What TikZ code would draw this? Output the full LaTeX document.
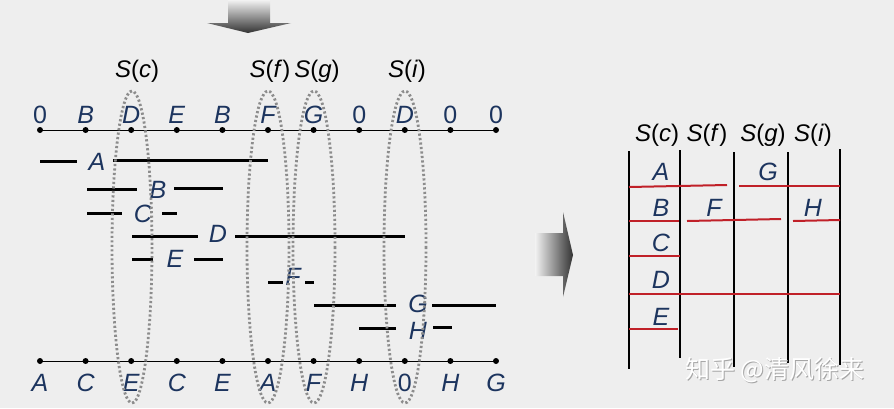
\documentclass[tikz,border=0pt]{standalone}
\usepackage{fontspec}
\setmainfont{Liberation Sans}
\newfontfamily\cjk{Noto Sans CJK SC}
\definecolor{bg}{RGB}{238,238,238}
\definecolor{lbl}{RGB}{28,52,94}
\definecolor{dotg}{RGB}{140,140,140}
\definecolor{redl}{RGB}{192,32,40}
\begin{document}
\begin{tikzpicture}[x=1pt,y=-1pt,
 lab/.style={text=lbl, font=\fontsize{25}{28}\selectfont\itshape, inner sep=0pt},
 num/.style={text=lbl, font=\fontsize{25}{28}\selectfont, inner sep=0pt},
 hdr/.style={text=black, font=\fontsize{24}{28}\selectfont, inner sep=0pt},
 seg/.style={line width=3pt},
 dotell/.style={draw=dotg, line width=2.8pt, dash pattern=on 2.2pt off 2.3pt},
 tickdot/.style={circle, fill=black, inner sep=0pt, minimum size=6pt},
 vline/.style={line width=2.2pt},
 rline/.style={draw=redl, line width=2pt}]
\fill[bg] (0,0) rectangle (894,408);
\useasboundingbox (0,0) rectangle (894,408);
% top arrow
\shade[top color=white!95!black, bottom color=black!80] (228,0) -- (270,0) -- (270,23) -- (291,23) -- (248,33) -- (207,23) -- (228,23) -- cycle;
% right arrow
\shade[left color=white!95!black, right color=black!80] (535,233) -- (563,233) -- (563,212) -- (573,255) -- (563,297) -- (563,276) -- (535,276) -- cycle;
% axes
\draw[line width=1pt] (40,130) -- (496,130);
\draw[line width=1pt] (40,361) -- (496,361);
\foreach \i/\t [count=\k] in {0/0,1/B,2/D,3/E,4/B,5/F,6/G,7/0,8/D,9/0,10/0}{
  \node[tickdot] (t\k) at ({40+45.6*\i},130) {};
}
\foreach \i [count=\k] in {0,...,10}{
  \node[tickdot] (b\k) at ({40+45.6*\i},361) {};
}
\node[num] (tl1) at (t1 |- 0,115) {0};
\node[lab] (tl2) at (t2 |- 0,115) {B};
\node[lab] (tl3) at (t3 |- 0,115) {D};
\node[lab] (tl4) at (t4 |- 0,115) {E};
\node[lab] (tl5) at (t5 |- 0,115) {B};
\node[lab] (tl6) at (t6 |- 0,115) {F};
\node[lab] (tl7) at (t7 |- 0,115) {G};
\node[num] (tl8) at (t8 |- 0,115) {0};
\node[lab] (tl9) at (t9 |- 0,115) {D};
\node[num] (tl10) at (t10 |- 0,115) {0};
\node[num] (tl11) at (t11 |- 0,115) {0};
\node[lab] (bl1) at (b1 |- 0,383) {A};
\node[lab] (bl2) at (b2 |- 0,383) {C};
\node[lab] (bl3) at (b3 |- 0,383) {E};
\node[lab] (bl4) at (b4 |- 0,383) {C};
\node[lab] (bl5) at (b5 |- 0,383) {E};
\node[lab] (bl6) at (b6 |- 0,383) {A};
\node[lab] (bl7) at (b7 |- 0,383) {F};
\node[lab] (bl8) at (b8 |- 0,383) {H};
\node[num] (bl9) at (b9 |- 0,383) {0};
\node[lab] (bl10) at (b10 |- 0,383) {H};
\node[lab] (bl11) at (b11 |- 0,383) {G};
% S labels
\node[hdr] (sc) at (137,71) {\textit{S}(\textit{c})};
\node[hdr] (sf) at (270,71) {\textit{S}(\textit{f})};
\node[hdr] (sg) at (317,71) {\textit{S}(\textit{g})};
\node[hdr] (si) at (407,71) {\textit{S}(\textit{i})};
% intervals
\node[lab] (iA) at (97,162) {A};
\draw[seg] (40,161) -- (77,161) (113,160) -- (268,160);
\node[lab] (iB) at (158,190) {B};
\draw[seg] (87,189) -- (137,189) (174,188) -- (223,188);
\node[lab] (iC) at (143,214) {C};
\draw[seg] (87,213) -- (122,213) (162,213) -- (177,213);
\node[lab] (iD) at (218,234) {D};
\draw[seg] (132,236) -- (198,236) (235,236) -- (405,236);
\node[lab] (iE) at (175,259) {E};
\draw[seg] (132,259) -- (153,259) (194,259) -- (223,259);
\node[lab] (iF) at (293,277) {F};
\draw[seg] (268,282) -- (283,282) (305,282) -- (314,282);
\node[lab] (iG) at (418,304) {G};
\draw[seg] (314,305) -- (396,305) (432,305) -- (496,305);
\node[lab] (iH) at (418,331) {H};
\draw[seg] (359,328) -- (396,328) (433,327) -- (452,327);
% ellipses
\draw[dotell] (132,247) ellipse [x radius=20, y radius=156];
\draw[dotell] (268,247) ellipse [x radius=21, y radius=156];
\draw[dotell] (314,247) ellipse [x radius=21, y radius=156];
\draw[dotell] (405,247) ellipse [x radius=21, y radius=156];
% table
\draw[vline] (629,151) -- (629,369);
\draw[vline] (680,150) -- (680,358);
\draw[vline] (734,152) -- (734,367);
\draw[vline] (788,152) -- (788,363);
\draw[vline] (840,149) -- (840,365);
\node[hdr] (hc) at (657,135) {\textit{S}(\textit{c})};
\node[hdr] (hf) at (707,135) {\textit{S}(\textit{f})};
\node[hdr] (hg) at (763,135) {\textit{S}(\textit{g})};
\node[hdr] (hi) at (813,135) {\textit{S}(\textit{i})};
\node[lab] (cA) at (661,172) {A};
\node[lab] (cG) at (768,172) {G};
\node[lab] (cB) at (661,208) {B};
\node[lab] (cF) at (714,208) {F};
\node[lab] (cH) at (813,208) {H};
\node[lab] (cC) at (661,243) {C};
\node[lab] (cD) at (661,280) {D};
\node[lab] (cE) at (661,317) {E};
\draw[rline] (629,187) -- (727,185);
\draw[rline] (739,186) -- (840,186);
\draw[rline] (629,221) -- (679,221);
\draw[rline] (687,221) -- (781,219);
\draw[rline] (793,221) -- (840,220);
\draw[rline] (629,256) -- (680,256);
\draw[rline] (629,294) -- (840,294);
\draw[rline] (629,329) -- (678,329);
% watermark
\node[text=black!35, font=\cjk\fontsize{25}{30}\selectfont, inner sep=0pt] (wms) at (776,371) {知乎 @清风徐来};
\node[text=white, font=\cjk\fontsize{25}{30}\selectfont, inner sep=0pt] (wm) at (775,370) {知乎 @清风徐来};
\end{tikzpicture}
\end{document}
